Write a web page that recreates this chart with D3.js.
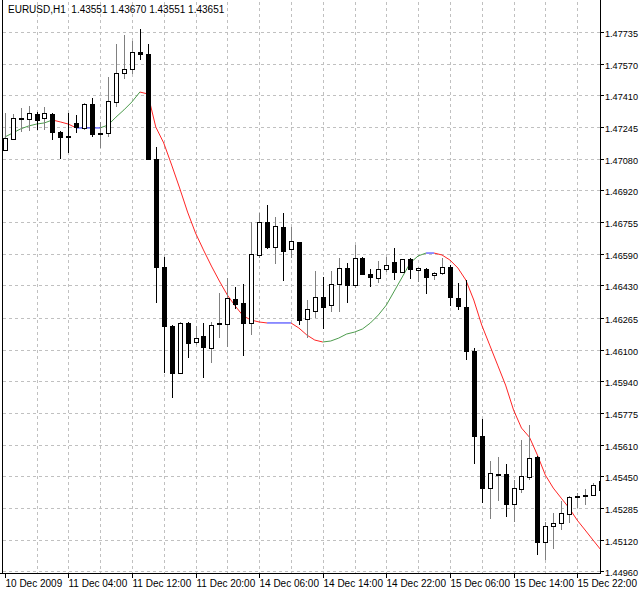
<!DOCTYPE html>
<html><head><meta charset="utf-8">
<script src="https://cdn.jsdelivr.net/npm/d3@7"></script>
<style>body{margin:0;background:#fff}</style></head>
<body><svg id="c" width="640" height="592"></svg>
<script>
const title = "EURUSD,H1  1.43551 1.43670 1.43551 1.43651";
const opens  = [1.47128,1.47184,1.47287,1.47287,1.47313,1.47292,1.47313,1.47220,1.47200,1.47267,1.47241,1.47364,1.47215,1.47215,1.47375,1.47524,1.47545,1.47632,1.47622,1.47081,1.46525,1.46221,1.45979,1.46237,1.46139,1.46170,1.46108,1.46231,1.46231,1.46360,1.46340,1.46237,1.46587,1.46757,1.46628,1.46731,1.46618,1.46654,1.46257,1.46298,1.46370,1.46329,1.46437,1.46520,1.46432,1.46571,1.46489,1.46468,1.46515,1.46551,1.46499,1.46566,1.46510,1.46515,1.46484,1.46494,1.46525,1.46365,1.46319,1.46092,1.45655,1.45387,1.45459,1.45459,1.45304,1.45382,1.45443,1.45546,1.45109,1.45191,1.45207,1.45253,1.45346,1.45351,1.45351,1.45423];
const highs  = [1.47318,1.47313,1.47344,1.47354,1.47323,1.47349,1.47318,1.47225,1.47318,1.47308,1.47370,1.47395,1.47272,1.47503,1.47673,1.47720,1.47689,1.47751,1.47673,1.47143,1.46576,1.46225,1.46240,1.46240,1.46221,1.46237,1.46242,1.46391,1.46468,1.46422,1.46437,1.46757,1.46803,1.46844,1.46782,1.46803,1.46731,1.46654,1.46355,1.46504,1.46473,1.46504,1.46571,1.46546,1.46638,1.46575,1.46515,1.46556,1.46576,1.46623,1.46566,1.46570,1.46525,1.46518,1.46499,1.46571,1.46535,1.46443,1.46458,1.46108,1.45742,1.45526,1.45546,1.45510,1.45428,1.45634,1.45711,1.45550,1.45212,1.45258,1.45320,1.45346,1.45361,1.45382,1.45413,1.45438];
const lows   = [1.47120,1.47180,1.47220,1.47225,1.47231,1.47231,1.47179,1.47081,1.47112,1.47215,1.47231,1.47194,1.47138,1.47194,1.47349,1.47493,1.47519,1.47591,1.47081,1.46340,1.45979,1.45850,1.45975,1.46056,1.46123,1.45953,1.46031,1.46159,1.46113,1.46309,1.46067,1.46175,1.46571,1.46618,1.46540,1.46453,1.46571,1.46226,1.46159,1.46262,1.46206,1.46293,1.46293,1.46340,1.46417,1.46489,1.46422,1.46443,1.46499,1.46458,1.46495,1.46463,1.46448,1.46386,1.46458,1.46484,1.46324,1.46304,1.46046,1.45510,1.45310,1.45227,1.45320,1.45237,1.45212,1.45361,1.45428,1.45042,1.45016,1.45073,1.45171,1.45207,1.45284,1.45299,1.45346,1.45191];
const closes = [1.47189,1.47292,1.47292,1.47318,1.47282,1.47318,1.47220,1.47194,1.47198,1.47246,1.47364,1.47210,1.47217,1.47380,1.47524,1.47545,1.47632,1.47622,1.47081,1.46525,1.46221,1.45979,1.46237,1.46134,1.46159,1.46113,1.46226,1.46237,1.46365,1.46334,1.46237,1.46592,1.46757,1.46628,1.46736,1.46607,1.46659,1.46252,1.46309,1.46370,1.46319,1.46437,1.46520,1.46432,1.46571,1.46489,1.46473,1.46515,1.46535,1.46499,1.46566,1.46515,1.46520,1.46473,1.46494,1.46525,1.46370,1.46324,1.46092,1.45655,1.45387,1.45464,1.45461,1.45304,1.45387,1.45449,1.45541,1.45109,1.45191,1.45207,1.45258,1.45340,1.45348,1.45353,1.45402,1.45377];
const ma = [1.47194,1.47215,1.47236,1.47251,1.47261,1.47267,1.47282,1.47272,1.47261,1.47241,1.47241,1.47241,1.47241,1.47256,1.47297,1.47334,1.47375,1.47426,1.47416,1.47246,1.47164,1.47050,1.46932,1.46808,1.46700,1.46613,1.46530,1.46453,1.46381,1.46324,1.46273,1.46252,1.46242,1.46237,1.46237,1.46237,1.46237,1.46211,1.46175,1.46149,1.46139,1.46144,1.46159,1.46180,1.46190,1.46206,1.46237,1.46278,1.46329,1.46401,1.46473,1.46546,1.46582,1.46597,1.46597,1.46587,1.46561,1.46520,1.46458,1.46355,1.46226,1.46123,1.46020,1.45917,1.45789,1.45696,1.45649,1.45557,1.45454,1.45387,1.45335,1.45284,1.45222,1.45171,1.45119,1.45068];
const priceTicks = [1.47735,1.47570,1.47410,1.47245,1.47080,1.46920,1.46755,1.46590,1.46430,1.46265,1.46100,1.45940,1.45775,1.45610,1.45450,1.45285,1.45120,1.44960];
const timeLabels = ["10 Dec 2009","11 Dec 04:00","11 Dec 12:00","11 Dec 20:00","14 Dec 06:00","14 Dec 14:00","14 Dec 22:00","15 Dec 06:00","15 Dec 14:00","15 Dec 22:00"];

const svg = d3.select("#c");
const L=3, R=600, T=2, B=573;
const x = d3.scaleLinear().domain([0,75]).range([4.7,601]);
const y = d3.scaleLinear().domain([1.44960,1.47735]).range([571,32]);

svg.append("defs").append("clipPath").attr("id","pc").append("rect").attr("x",L).attr("y",T).attr("width",R-L).attr("height",B-T);
const g = svg.append("g").attr("clip-path","url(#pc)");

priceTicks.forEach(p=>g.append("line").attr("x1",L).attr("x2",R).attr("y1",Math.round(y(p))+0.5).attr("y2",Math.round(y(p))+0.5)
  .attr("stroke","#c0c0c0").attr("stroke-dasharray","3,3"));
d3.range(4,76,4).forEach(i=>g.append("line").attr("y1",T).attr("y2",B).attr("x1",Math.round(x(i))+0.5).attr("x2",Math.round(x(i))+0.5)
  .attr("stroke","#c0c0c0").attr("stroke-dasharray","3,3"));

for(let i=1;i<ma.length;i++){
  const d=ma[i]-ma[i-1];
  const col = Math.abs(d)<0.00003 ? "#0000ff" : (d>0 ? "#2e8b2e" : "#ff0000");
  g.append("line").attr("x1",x(i-1)).attr("x2",x(i)).attr("y1",y(ma[i-1])).attr("y2",y(ma[i]))
    .attr("stroke",col).attr("stroke-width",1).attr("opacity",0.85);
}

opens.forEach((o,i)=>{
  const c=closes[i], up=c>=o, cx=Math.round(x(i))+0.5;
  g.append("line").attr("x1",cx).attr("x2",cx).attr("y1",Math.round(y(highs[i]))).attr("y2",Math.round(y(lows[i])))
    .attr("stroke", up?"#808080":"#000");
  const top=Math.round(y(Math.max(o,c))), h=Math.max(1,Math.round(y(Math.min(o,c)))-top);
  if(up) g.append("rect").attr("x",cx-2).attr("y",top+0.5).attr("width",4).attr("height",Math.max(h,1)).attr("fill","#fff").attr("stroke","#000");
  else g.append("rect").attr("x",cx-2.5).attr("y",top).attr("width",5).attr("height",h+1).attr("fill","#000");
});

svg.append("line").attr("x1",R+0.5).attr("x2",R+0.5).attr("y1",0).attr("y2",B).attr("stroke","#000");
svg.append("line").attr("x1",0).attr("x2",R+1).attr("y1",B+0.5).attr("y2",B+0.5).attr("stroke","#000");
svg.append("line").attr("x1",2.5).attr("x2",2.5).attr("y1",0).attr("y2",B).attr("stroke","#000");

priceTicks.forEach(p=>{
  const yy=Math.round(y(p))+0.5;
  svg.append("line").attr("x1",R).attr("x2",R+4).attr("y1",yy).attr("y2",yy).attr("stroke","#000");
  svg.append("text").attr("x",605).attr("y",yy+4).text(p.toFixed(5))
    .attr("font-family","Liberation Sans, Arial").attr("font-size",9.5).attr("textLength",33).attr("lengthAdjust","spacingAndGlyphs").attr("fill","#000");
});
timeLabels.forEach((t,k)=>{
  const xx=Math.round(x(k*8))+0.5;
  svg.append("line").attr("x1",xx).attr("x2",xx).attr("y1",B).attr("y2",B+5).attr("stroke","#000");
  svg.append("text").attr("x",xx).attr("y",587).text(t)
    .attr("font-family","Liberation Sans, Arial").attr("font-size",10).attr("fill","#000");
});
svg.append("text").attr("x",8).attr("y",13).text(title).attr("xml:space","preserve").style("white-space","pre")
  .attr("font-family","Liberation Sans, Arial").attr("font-size",10).attr("fill","#000");
</script></body></html>
